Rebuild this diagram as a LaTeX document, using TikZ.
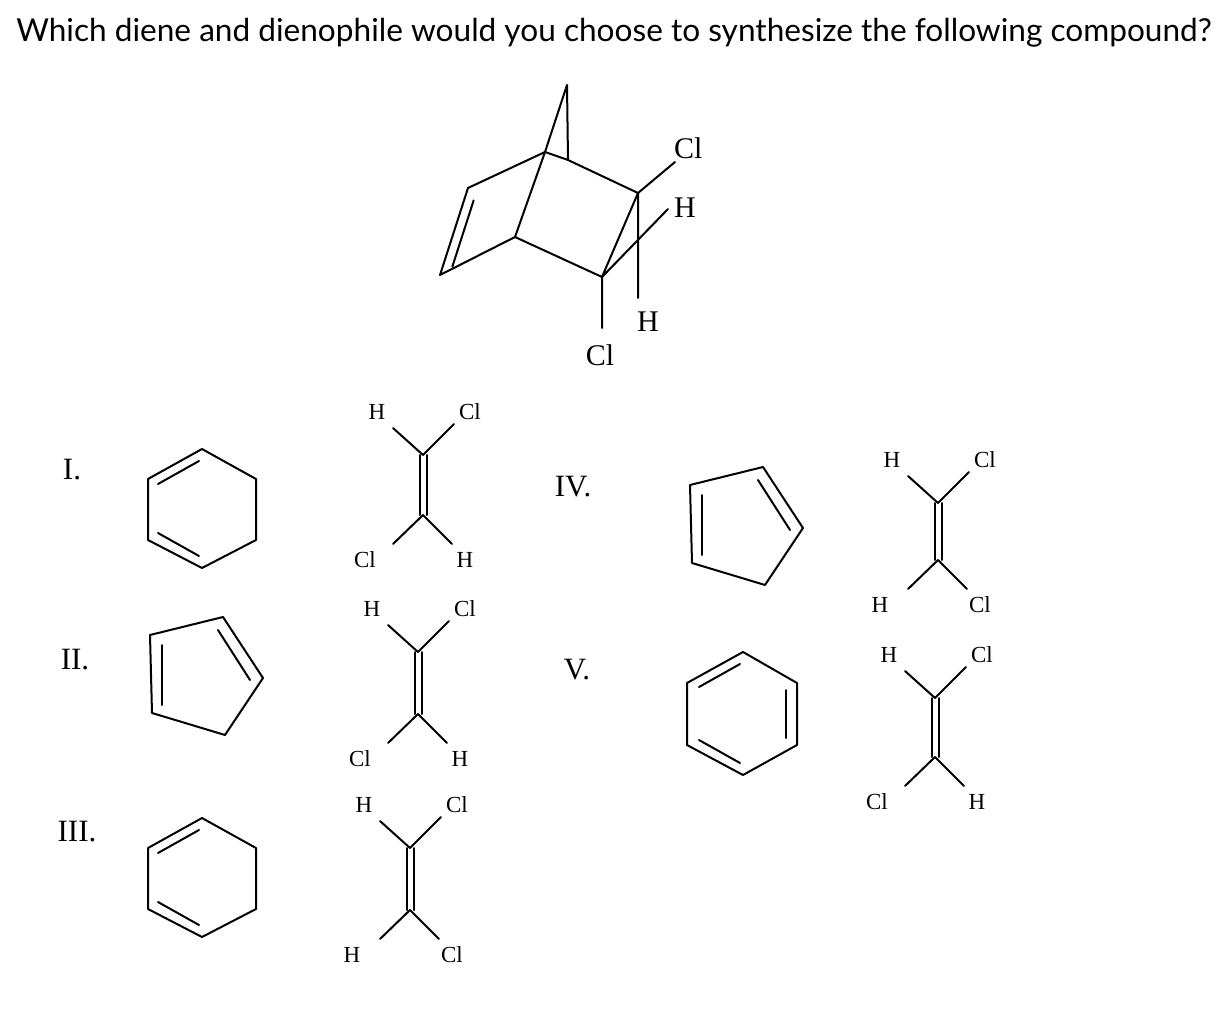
\documentclass[tikz,border=0pt]{standalone}
\usepackage{fontspec}
\setmainfont{Liberation Serif}
\newfontfamily\lato{Lato}
\usetikzlibrary{calc}
\newcommand{\chd}[2]{%
\begin{scope}[shift={(#1,#2)}]
\draw[bond] (0,0)--(54,30)--(54,91)--(0,119)--(-54,91)--(-54,30)--cycle;
\draw[bond] (-3,12)--(-44,35); \draw[bond] (-3,107)--(-44,84);
\end{scope}}
\newcommand{\cpd}[2]{%
\begin{scope}[shift={(#1,#2)}]
\draw[bond] (0,0)--(73,-18)--(113,43)--(75,100)--(2,78)--cycle;
\draw[bond] (12,10)--(12,70); \draw[bond] (68,-5)--(100,45);
\end{scope}}
\newcommand{\dph}[8]{%
\coordinate (u#8) at (#1,#2); \coordinate (l#8) at (#1,#3);
\draw[bond] ($(u#8)+(-3,0)$)--($(l#8)+(-3,0)$); \draw[bond] ($(u#8)+(4,0)$)--($(l#8)+(4,0)$);
\node[lab] (a#8) at ($(u#8)+(-46,-43)$) {#4}; \node[lab] (b#8) at ($(u#8)+(47,-43)$) {#5};
\node[lab] (c#8) at ($(l#8)+(-58,45)$) {#6}; \node[lab] (d#8) at ($(l#8)+(42,45)$) {#7};
\draw[bond] (u#8)--++(-30,-27); \draw[bond] (u#8)--++(31,-31);
\draw[bond] (l#8)--++(-30,29); \draw[bond] (l#8)--++(29,29);}
\begin{document}
\begin{tikzpicture}[x=1pt,y=-1pt,
  bond/.style={line width=2pt,line cap=round,line join=round},
  lab/.style={font=\fontsize{23}{23}\selectfont,inner sep=0pt},
  big/.style={font=\fontsize{30}{30}\selectfont,inner sep=0pt},
  num/.style={font=\fontsize{31}{31}\selectfont,inner sep=0pt}]
\useasboundingbox (0,0) rectangle (1228,1016);
\node[font=\lato\fontsize{31.6}{32}\selectfont,inner sep=0pt] (title) at (614,33) {Which diene and dienophile would you choose to synthesize the following compound?};
% top compound
\coordinate (ap) at (567,85); \coordinate (b1) at (545,152); \coordinate (c2) at (568,160);
\coordinate (ra) at (638,193); \coordinate (rb) at (602,277); \coordinate (b2) at (515,237);
\coordinate (at) at (468,188); \coordinate (ab) at (440,275);
\coordinate (ha) at (638,298); \coordinate (hb) at (668,209); \coordinate (ca) at (675,162); \coordinate (cb) at (602,328);
\draw[bond] (ap)--(b1) (ap)--(c2) (b1)--(c2) (b1)--(at)--(ab)--(b2) (b1)--(b2) (b2)--(rb) (c2)--(ra)--(rb)
 (ra)--(ca) (ra)--(ha) (rb)--(hb) (rb)--(cb);
\draw[bond] ($(at)!0.12!(ab)+(9,2)$) -- ($(at)!0.88!(ab)+(9,2)$);
\node[big,anchor=west] (tcl) at (674,148) {Cl};
\node[big,anchor=west] (th1) at (674,208) {H};
\node[big] (th2) at (648,322) {H};
\node[big] (tcl2) at (600,355) {Cl};
% numerals
\node[num] (n1) at (72,470) {I.};
\node[num] (n2) at (75,660) {II.};
\node[num] (n3) at (77,832) {III.};
\node[num] (n4) at (573,487) {IV.};
\node[num] (n5) at (577,670) {V.};
\chd{202}{449}
\chd{202}{818}
\cpd{150}{635}
\cpd{690}{485}
% benzene
\begin{scope}[shift={(743,652)}]
\draw[bond] (0,0)--(54,31)--(54,93)--(0,123)--(-56,93)--(-56,31)--cycle;
\draw[bond] (-3,12)--(-44,35); \draw[bond] (-3,111)--(-44,88); \draw[bond] (43,38)--(43,86);
\end{scope}
\dph{423}{455}{515}{H}{Cl}{Cl}{H}{1}
\dph{418}{652}{714}{H}{Cl}{Cl}{H}{2}
\dph{410}{848}{910}{H}{Cl}{H}{Cl}{3}
\dph{938}{503}{560}{H}{Cl}{H}{Cl}{4}
\dph{935}{698}{757}{H}{Cl}{Cl}{H}{5}
\end{tikzpicture}
\end{document}
